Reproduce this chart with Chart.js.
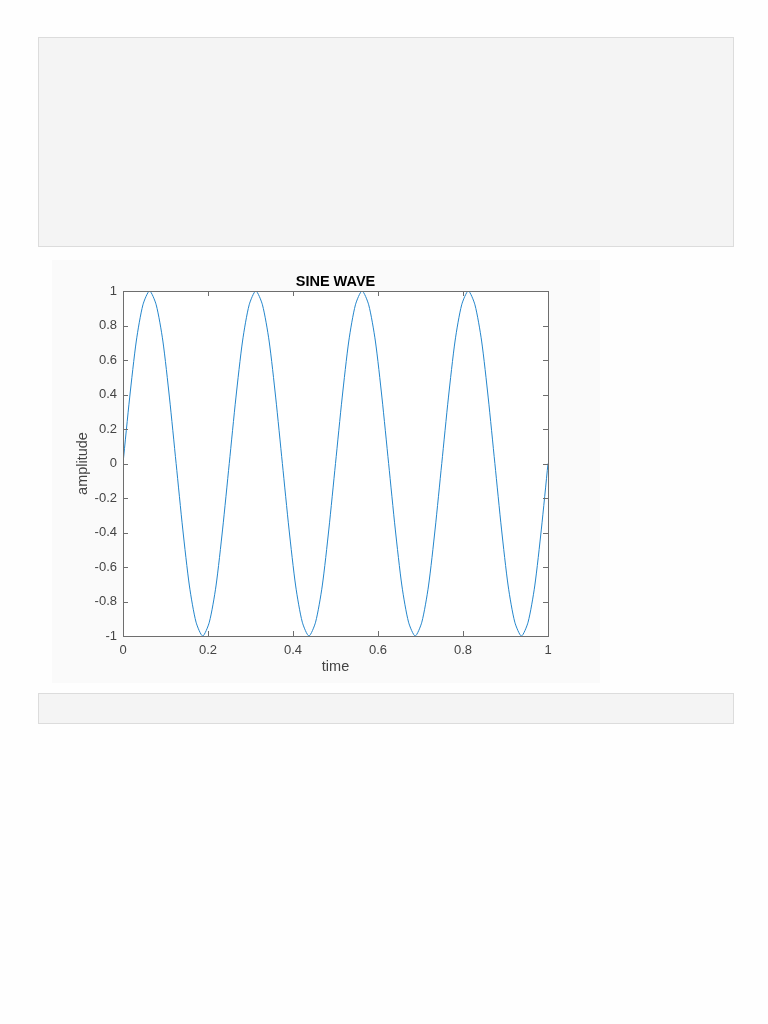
<!DOCTYPE html>
<html>
<head>
<meta charset="utf-8">
<script src="https://cdn.jsdelivr.net/npm/chart.js@4"></script>
<style>
  html, body { margin: 0; padding: 0; background: #fefefe; }
  body { width: 768px; height: 1024px; position: relative; font-family: "Liberation Sans", Arial, sans-serif; }
  .box { position: absolute; left: 38px; width: 694px; background: #f4f4f4; border: 1px solid #dcdcdc; }
  #topBox { top: 37px; height: 208px; }
  #bottomBox { top: 693px; height: 29px; }
  #figure { position: absolute; left: 52px; top: 260px; width: 548px; height: 423px; background: #fafafa; }
</style>
</head>
<body>
<div class="box" id="topBox"></div>
<div id="figure"><canvas id="sineChart"></canvas></div>
<div class="box" id="bottomBox"></div>

<script>
// values (time in s, amplitude)
const timeValues = [
  0, 0.0156, 0.0313, 0.0469, 0.0625, 0.0781, 0.0938, 0.1094,
  0.125, 0.1406, 0.1563, 0.1719, 0.1875, 0.2031, 0.2188, 0.2344,
  0.25, 0.2656, 0.2813, 0.2969, 0.3125, 0.3281, 0.3438, 0.3594,
  0.375, 0.3906, 0.4063, 0.4219, 0.4375, 0.4531, 0.4688, 0.4844,
  0.5, 0.5156, 0.5313, 0.5469, 0.5625, 0.5781, 0.5938, 0.6094,
  0.625, 0.6406, 0.6563, 0.6719, 0.6875, 0.7031, 0.7188, 0.7344,
  0.75, 0.7656, 0.7813, 0.7969, 0.8125, 0.8281, 0.8438, 0.8594,
  0.875, 0.8906, 0.9063, 0.9219, 0.9375, 0.9531, 0.9688, 0.9844,
  1
];
const amplitudeValues = [
  0, 0.38, 0.71, 0.92, 1, 0.92, 0.71, 0.38,
  0, -0.38, -0.71, -0.92, -1, -0.92, -0.71, -0.38,
  0, 0.38, 0.71, 0.92, 1, 0.92, 0.71, 0.38,
  0, -0.38, -0.71, -0.92, -1, -0.92, -0.71, -0.38,
  0, 0.38, 0.71, 0.92, 1, 0.92, 0.71, 0.38,
  0, -0.38, -0.71, -0.92, -1, -0.92, -0.71, -0.38,
  0, 0.38, 0.71, 0.92, 1, 0.92, 0.71, 0.38,
  0, -0.38, -0.71, -0.92, -1, -0.92, -0.71, -0.38,
  0
];
const xTicks = [0, 0.2, 0.4, 0.6, 0.8, 1];
const yTicks = [-1, -0.8, -0.6, -0.4, -0.2, 0, 0.2, 0.4, 0.6, 0.8, 1];

const chartTitle = "SINE WAVE";
const xLabel = "time";
const yLabel = "amplitude";

const FONT = "'Liberation Sans', Arial, sans-serif";
const TEXT_COLOR = "#444444";
const FRAME_COLOR = "#6e6e6e";

// white axes background + box with inward ticks, matlab style
const matlabAxes = {
    id: "matlabAxes",
    beforeDraw(chart) {
        const {ctx, chartArea: a} = chart;
        ctx.save();
        ctx.fillStyle = "#ffffff";
        ctx.fillRect(a.left, a.top, a.right - a.left, a.bottom - a.top);
        ctx.restore();
    },
    afterDraw(chart) {
        const {ctx, chartArea: a, scales} = chart;
        const len = 5;
        ctx.save();
        ctx.strokeStyle = FRAME_COLOR;
        ctx.lineWidth = 1;
        ctx.beginPath();
        xTicks.forEach(v => {
            const px = Math.round(scales.x.getPixelForValue(v)) + 0.5;
            ctx.moveTo(px, a.bottom); ctx.lineTo(px, a.bottom - len);
            ctx.moveTo(px, a.top); ctx.lineTo(px, a.top + len);
        });
        yTicks.forEach(v => {
            const py = Math.round(scales.y.getPixelForValue(v)) + 0.5;
            ctx.moveTo(a.left, py); ctx.lineTo(a.left + len, py);
            ctx.moveTo(a.right, py); ctx.lineTo(a.right - len, py);
        });
        ctx.stroke();
        ctx.strokeRect(Math.round(a.left) + 0.5, Math.round(a.top) + 0.5,
            Math.round(a.right - a.left), Math.round(a.bottom - a.top));
        ctx.restore();
    }
};

new Chart(document.getElementById("sineChart"), {
    type: "line",
    data: {
        datasets: [{
            data: timeValues.map((t, i) => ({x: t, y: amplitudeValues[i]})),
            borderColor: "#2486cc",
            borderWidth: 1,
            pointRadius: 0,
            tension: 0.25,
            fill: false
        }]
    },
    options: {
        responsive: true,
        maintainAspectRatio: false,
        animation: false,
        layout: {padding: {top: 0, right: 52, bottom: 0, left: 0}},
        plugins: {
            legend: {display: false},
            tooltip: {enabled: false},
            title: {
                display: true,
                text: chartTitle,
                fullSize: false,
                color: "#000000",
                font: {family: FONT, size: 14.5, weight: "bold", lineHeight: 1.2},
                padding: {top: 13.3, bottom: 0.3}
            }
        },
        scales: {
            x: {
                type: "linear",
                min: 0,
                max: 1,
                afterFit: scale => { scale.height = 47; },
                afterBuildTicks: scale => { scale.ticks = xTicks.map(v => ({value: v})); },
                grid: {display: false, drawTicks: false},
                border: {display: false},
                ticks: {
                    color: TEXT_COLOR,
                    padding: 7,
                    maxRotation: 0,
                    font: {family: FONT, size: 13},
                    callback: v => String(v)
                },
                title: {
                    display: true,
                    text: xLabel,
                    color: TEXT_COLOR,
                    font: {family: FONT, size: 14.5, lineHeight: 1.2},
                    padding: {top: 0, bottom: 7.3}
                }
            },
            y: {
                type: "linear",
                min: -1,
                max: 1,
                afterFit: scale => { scale.width = 71; },
                afterBuildTicks: scale => { scale.ticks = yTicks.map(v => ({value: v})); },
                grid: {display: false, drawTicks: false},
                border: {display: false},
                ticks: {
                    color: TEXT_COLOR,
                    padding: 6,
                    font: {family: FONT, size: 13},
                    callback: v => String(v)
                },
                title: {
                    display: true,
                    text: yLabel,
                    color: TEXT_COLOR,
                    font: {family: FONT, size: 14.5, lineHeight: 1.2},
                    padding: {top: 22.3, bottom: 0}
                }
            }
        }
    },
    plugins: [matlabAxes]
});
</script>
</body>
</html>
